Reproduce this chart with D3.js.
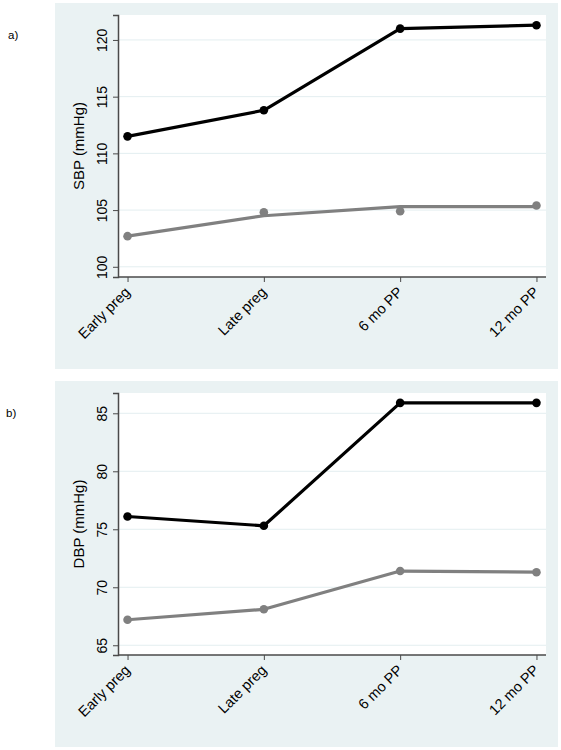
<!DOCTYPE html>
<html>
<head>
<meta charset="utf-8">
<script src="https://cdn.jsdelivr.net/npm/d3@7"></script>
<style>
  body { margin: 0; background: #fff; }
  svg text { font-family: "Liberation Sans", Arial, sans-serif; }
</style>
</head>
<body>
<div id="canvas"></div>
<script>
var width = 561;
var height = 750;

var categories = ["Early preg", "Late preg", "6 mo PP", "12 mo PP"];

// panel a: systolic
var sbpBlack = [111.5, 113.8, 121.0, 121.3];
var sbpGreyLine = [102.7, 104.5, 105.3, 105.3];
var sbpGreyDots = [102.7, 104.8, 104.9, 105.4];
var sbpTicks = [100, 105, 110, 115, 120];

// panel b: diastolic
var dbpBlack = [76.1, 75.3, 85.9, 85.9];
var dbpGrey = [67.2, 68.1, 71.4, 71.3];
var dbpTicks = [65, 70, 75, 80, 85];

var svg = d3.select("#canvas")
    .append("svg")
    .attr("width", width)
    .attr("height", height);

var xScale = d3.scalePoint()
    .domain(categories)
    .range([118, 546])
    .padding(0.07);

function drawPanel(opts) {
    var top = opts.top;
    var plotTop = top + 12;
    var plotBottom = top + 274;

    svg.append("rect")
        .attr("x", 55).attr("y", top)
        .attr("width", 503).attr("height", 366)
        .attr("fill", "#eaf2f3");

    svg.append("rect")
        .attr("x", 118).attr("y", plotTop)
        .attr("width", 428).attr("height", plotBottom - plotTop)
        .attr("fill", "#ffffff");

    svg.append("text")
        .attr("x", opts.labelX).attr("y", top + 36)
        .style("font-size", "11.5px")
        .text(opts.label);

    var yScale = d3.scaleLinear()
        .domain(opts.domain)
        .range([plotBottom, plotTop]);

    // gridlines
    svg.append("g")
        .selectAll("line")
        .data(opts.ticks)
        .join("line")
        .attr("x1", 118).attr("x2", 546)
        .attr("y1", d => yScale(d)).attr("y2", d => yScale(d))
        .attr("stroke", "#e3eef0")
        .attr("stroke-width", 1);

    var yAxis = svg.append("g")
        .attr("transform", "translate(118,0)")
        .call(d3.axisLeft(yScale).tickValues(opts.ticks).tickSize(5).tickPadding(11));
    yAxis.select(".domain").attr("stroke", "#4a4a4a").attr("stroke-width", 1.5);
    yAxis.selectAll(".tick line").attr("stroke", "#4a4a4a");
    yAxis.selectAll(".tick text")
        .attr("transform", "rotate(-90,-11,0)")
        .attr("text-anchor", "middle")
        .attr("x", -11).attr("dy", "0")
        .attr("fill", "#000")
        .style("font-size", "14px")
        .style("font-family", "Liberation Sans, Arial, sans-serif");

    svg.append("text")
        .attr("text-anchor", "middle")
        .attr("transform", "translate(84," + ((plotTop + plotBottom) / 2) + ") rotate(-90)")
        .style("font-size", "15px")
        .text(opts.title);

    var xAxis = svg.append("g")
        .attr("transform", "translate(0," + plotBottom + ")")
        .call(d3.axisBottom(xScale).tickSize(5).tickSizeOuter(0));
    xAxis.select(".domain").attr("stroke", "#4a4a4a").attr("stroke-width", 1.5)
        .attr("d", "M118,0H546");
    xAxis.selectAll(".tick line").attr("stroke", "#4a4a4a");
    xAxis.selectAll(".tick text")
        .attr("text-anchor", "end")
        .attr("y", 0).attr("dy", 0)
        .attr("transform", "translate(3,16) rotate(-45)")
        .attr("fill", "#000")
        .style("font-size", "14.5px")
        .style("font-family", "Liberation Sans, Arial, sans-serif");

    var line = d3.line()
        .x((d, i) => xScale(categories[i]))
        .y(d => yScale(d));

    opts.series.forEach(function(s) {
        svg.append("path")
            .datum(s.line)
            .attr("d", line)
            .attr("fill", "none")
            .attr("stroke", s.color)
            .attr("stroke-width", 3.2)
            .attr("stroke-linejoin", "round");
        svg.append("g")
            .selectAll("circle")
            .data(s.dots)
            .join("circle")
            .attr("cx", (d, i) => xScale(categories[i]))
            .attr("cy", d => yScale(d))
            .attr("r", 4.3)
            .attr("fill", s.color);
    });
}

drawPanel({
    top: 3,
    label: "a)",
    labelX: 8,
    domain: [99.1, 122.2],
    ticks: sbpTicks,
    title: "SBP (mmHg)",
    series: [
        { line: sbpGreyLine, dots: sbpGreyDots, color: "#808080" },
        { line: sbpBlack, dots: sbpBlack, color: "#000000" }
    ]
});

drawPanel({
    top: 381,
    label: "b)",
    labelX: 6,
    domain: [64.16, 86.75],
    ticks: dbpTicks,
    title: "DBP (mmHg)",
    series: [
        { line: dbpGrey, dots: dbpGrey, color: "#808080" },
        { line: dbpBlack, dots: dbpBlack, color: "#000000" }
    ]
});
</script>
</body>
</html>
